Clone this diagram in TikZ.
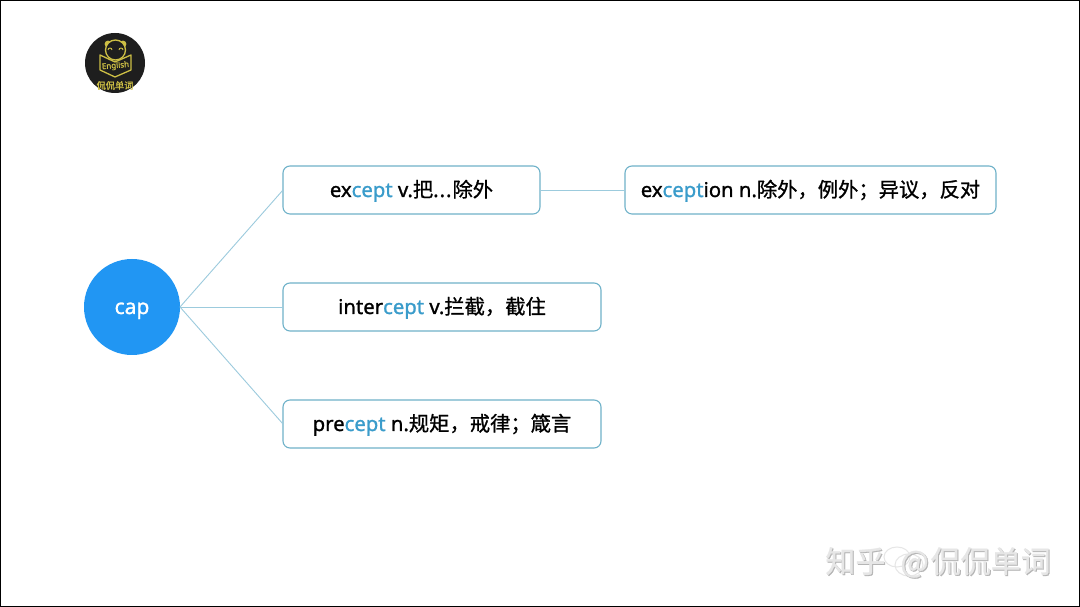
\documentclass[tikz,border=0pt]{standalone}
\usepackage{fontspec}
\setmainfont{Noto Sans}[RawFeature={embolden=1.2}]
\newfontfamily\cjk{Noto Sans CJK SC}[RawFeature={embolden=1.0}]
\usepackage{xcolor}
\usetikzlibrary{positioning}

\definecolor{capblue}{HTML}{2196F3}
\definecolor{stemblue}{HTML}{3A9CCB}
\definecolor{boxline}{HTML}{6FB2C9}
\definecolor{linkline}{HTML}{9CCBDD}
\definecolor{logodark}{HTML}{1E1E1E}
\definecolor{logoyellow}{HTML}{CDBF45}
\definecolor{markgrey}{HTML}{E6E6E6}
\definecolor{markedge}{HTML}{B5B5B5}

\newcommand{\zh}[1]{{\cjk #1}}
\newcommand{\ceptpart}[1]{\textcolor{stemblue}{#1}}

\tikzset{
    rootnode/.style={circle, fill=capblue, draw=none, minimum size=96pt, inner sep=0pt, outer sep=0pt, text=white, text height=17pt, text depth=3pt, font=\fontsize{21}{24}\selectfont},
    wordbox/.style={rectangle, rounded corners=7pt, draw=boxline, line width=1.1pt, fill=white, minimum height=48pt, inner sep=0pt, outer sep=0pt, text height=17pt, text depth=3pt, font=\fontsize{20.3}{24}\selectfont},
    linkedge/.style={draw=linkline, line width=0.9pt},
    logoline/.style={draw=logoyellow, line width=1.3pt, line join=round},
    marktext/.style={inner sep=0pt, font=\fontsize{30}{34}\selectfont},
}

\begin{document}
\begin{tikzpicture}[x=1pt, y=1pt]
    \useasboundingbox (0,0) rectangle (1080,607);
    \fill[white] (0,0) rectangle (1080,607);

    % root and words
    \node [rootnode] (cap) at (132,300) {cap};

    \node [wordbox, minimum width=318pt, right=103pt of cap] (intercept) {inter\ceptpart{cept} v.\zh{拦截，截住}};
    \node [wordbox, minimum width=257pt, above right=69pt and 0pt of intercept.north west] (except) {ex\ceptpart{cept} v.\zh{把}.\hspace{1pt}.\hspace{1pt}.\hspace{1pt}\zh{除外}};
    \node [wordbox, minimum width=318pt, below=69pt of intercept] (precept) {pre\ceptpart{cept} n.\zh{规矩，戒律；箴言}};
    \node [wordbox, minimum width=371pt, right=85pt of except] (exception) {ex\ceptpart{cept}ion n.\zh{除外，例外；异议，反对}};

    \draw [linkedge] (cap.east) -- (except.west);
    \draw [linkedge] (cap.east) -- (intercept.west);
    \draw [linkedge] (cap.east) -- (precept.west);
    \draw [linkedge] (except.east) -- (exception.west);

    % logo
    \node [circle, fill=logodark, minimum size=60pt, inner sep=0pt] (logo) at (115,544) {};
    \fill [logoyellow] (108,563) circle (3.4pt) (123,563) circle (3.4pt);
    \filldraw [logoline, fill=logodark] (115.5,557) circle (10pt);
    \draw [logoyellow, line width=0.9pt] (108,557) arc (180:0:2pt) (119,557) arc (180:0:2pt);
    \filldraw [logoline, fill=logodark] (100,552) -- (115,545) -- (131,552) -- (131,537) -- (115,530) -- (100,537) -- cycle;
    \node [text=logoyellow, rotate=5, inner sep=0pt, font=\fontsize{8}{9}\selectfont] (logoword) at (115.5,541) {English};
    \node [text=logoyellow, below=18pt of logo.center, inner sep=0pt, font=\cjk\fontsize{9.2}{10}\selectfont] (logoname) {侃侃单词};

    % watermark
    \draw [markgrey, line width=1pt] (897,50) ellipse (13pt and 10pt) (909,42) ellipse (14pt and 11pt);
    \node [marktext, text=markedge, anchor=east] (markshadow) at (1052,43.5) {\zh{知乎\hspace{15pt}@\hspace{2pt}侃侃单词}};
    \node [marktext, text=markgrey, anchor=east] (mark) at (1051,44.5) {\zh{知乎\hspace{15pt}@\hspace{2pt}侃侃单词}};

    % frame
    \draw [black, line width=2.5pt] (0,0) rectangle (1080,607);
\end{tikzpicture}
\end{document}
